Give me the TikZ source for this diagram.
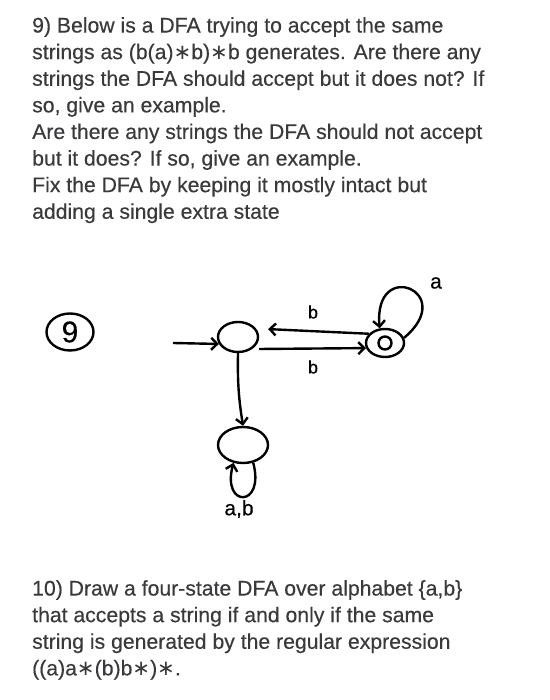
\documentclass[tikz,border=0pt]{standalone}
\usepackage{fontspec}
\usepackage{tikz}
\usetikzlibrary{arrows.meta,positioning,shapes.geometric}
\newfontfamily\questfont[FakeBold=0.35]{Liberation Sans}
\newfontfamily\starfont{DejaVu Sans}
\definecolor{ink}{HTML}{3A3A3C}
\newcommand{\qtext}{\questfont\fontsize{21.2}{26.6}\selectfont}
\newcommand{\handlbl}{\questfont\fontsize{18}{20}\selectfont}
\newcommand{\kstar}{{\starfont ∗}}

\begin{document}
\begin{tikzpicture}[x=1pt, y=1pt,
    state/.style={draw=black, line width=2.4pt, ellipse, minimum width=40pt, minimum height=30pt, inner sep=0pt},
    hand/.style={draw=black, line width=2.4pt, -{Straight Barb[length=6pt,width=12pt]}},
    txt/.style={font=\qtext, text=ink, anchor=north west, align=left, inner sep=0pt},
    lbl/.style={font=\handlbl, inner sep=0pt}
]
\fill[white] (0,0) rectangle (549,700);
\useasboundingbox (0,0) rectangle (549,700);

\node[txt] (task9) at (32,683) {9) Below is a DFA trying to accept the same\\
strings as (b(a)\kstar b)\kstar b generates. Are there any\\
strings the DFA should accept but it does not? If\\
so, give an example.\\
Are there any strings the DFA should not accept\\
but it does? If so, give an example.\\
Fix the DFA by keeping it mostly intact but\\
adding a single extra state};

\node[txt] (task10) at (32,120) {10) Draw a four-state DFA over alphabet \{a,b\}\\
that accepts a string if and only if the same\\
string is generated by the regular expression\\
((a)a\kstar(b)b\kstar)\kstar.};

\node[state, minimum width=47pt, minimum height=37pt, font=\questfont\fontsize{30}{30}\selectfont] (nine) at (70,368) {9};

\node[state] (q0) at (238,363) {};
\node[state, minimum width=38pt, minimum height=28pt] (q1) at (385,357) {};
\node[draw=black, line width=2.4pt, circle, minimum size=13pt, inner sep=0pt] (q1in) at (q1) {};
\node[state, minimum width=50pt, minimum height=36pt] (trap) at (243,255) {};

\coordinate (start) at (173,357);

\draw[hand] (start) -- (q0.200);
\draw[hand, shorten >=12pt] (q1.150) -- (q0.25);
\draw[hand] ([yshift=-12pt]q0.east) -- (q1.195);
\draw[hand] (q0.south) to[bend right=5] (trap.north);
\draw[hand] (q1.15) to[out=40, in=95, looseness=7] (q1.110);
\draw[hand] (trap.-60) .. controls +(-75:47) and +(-105:47) .. (trap.-118);

\node[lbl, font=\questfont\fontsize{21}{22}\selectfont] (la) at (436,417) {a};
\node[lbl] (lbtop) at (313,388) {b};
\node[lbl] (lbbot) at (313,333) {b};
\node[lbl, font=\questfont\fontsize{21}{22}\selectfont] (lab) at (239,191) {a,b};
\end{tikzpicture}
\end{document}
